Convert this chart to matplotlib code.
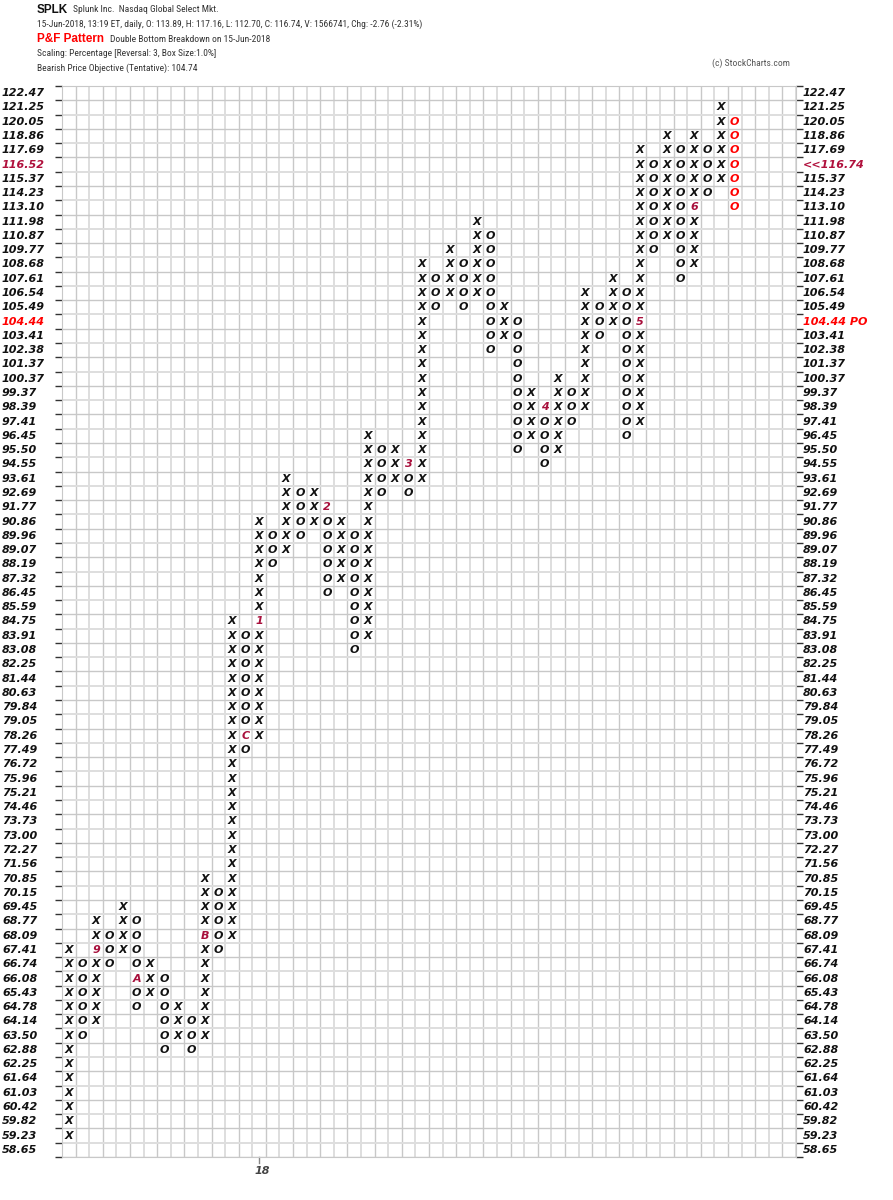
"""
SPLK 点数图 (P&F) 复刻
"""
import numpy as np
import matplotlib
matplotlib.use('Agg')
import matplotlib.pyplot as plt
from matplotlib import font_manager

# 价格刻度 (从上到下)
prices = [122.47, 121.25, 120.05, 118.86, 117.69, 116.52, 115.37, 114.23, 113.10, 111.98,
          110.87, 109.77, 108.68, 107.61, 106.54, 105.49, 104.44, 103.41, 102.38, 101.37,
          100.37, 99.37, 98.39, 97.41, 96.45, 95.50, 94.55, 93.61, 92.69, 91.77,
          90.86, 89.96, 89.07, 88.19, 87.32, 86.45, 85.59, 84.75, 83.91, 83.08,
          82.25, 81.44, 80.63, 79.84, 79.05, 78.26, 77.49, 76.72, 75.96, 75.21,
          74.46, 73.73, 73.00, 72.27, 71.56, 70.85, 70.15, 69.45, 68.77, 68.09,
          67.41, 66.74, 66.08, 65.43, 64.78, 64.14, 63.50, 62.88, 62.25, 61.64,
          61.03, 60.42, 59.82, 59.23, 58.65]

# 每一列: X / O, 最高价, 最低价
col_kind = ['X', 'O'] * 25
col_top = [67.41, 66.74, 68.77, 68.09, 69.45, 68.77, 66.74, 66.08, 64.78, 64.14,
           70.85, 70.15, 84.75, 83.91, 90.86, 89.96, 93.61, 92.69, 92.69, 91.77,
           90.86, 89.96, 96.45, 95.50, 95.50, 94.55, 108.68, 107.61, 109.77, 108.68,
           111.98, 110.87, 105.49, 104.44, 99.37, 98.39, 100.37, 99.37, 106.54, 105.49,
           107.61, 106.54, 117.69, 116.52, 118.86, 117.69, 118.86, 117.69, 121.25, 120.05]
col_bottom = [59.23, 63.50, 64.14, 66.74, 67.41, 64.78, 65.43, 62.88, 63.50, 62.88,
              63.50, 67.41, 68.09, 77.49, 78.26, 88.19, 89.07, 89.96, 90.86, 86.45,
              87.32, 83.08, 83.91, 92.69, 93.61, 92.69, 93.61, 105.49, 106.54, 105.49,
              106.54, 102.38, 103.41, 95.50, 96.45, 94.55, 95.50, 97.41, 98.39, 103.41,
              104.44, 96.45, 97.41, 109.77, 110.87, 107.61, 108.68, 114.23, 115.37, 113.10]

# 月份标记 (列, 价格, 字符)
month_col = [2, 5, 10, 13, 14, 19, 25, 35, 42, 46]
month_price = [67.41, 66.08, 68.09, 78.26, 84.75, 91.77, 94.55, 98.39, 104.44, 113.10]
month_label = ['9', 'A', 'B', 'C', '1', '2', '3', '4', '5', '6']

n_cols = 54
W, H = 893, 1200

# 标题用窄字体 (有就用)
names = {f.name for f in font_manager.fontManager.ttflist}
narrow = 'Liberation Sans'
for nm in ['Liberation Sans Narrow', 'Arial Narrow', 'Roboto Condensed', 'Open Sans Condensed']:
    if nm in names:
        narrow = nm
        break

fig = plt.figure(figsize=(W / 100, H / 100), dpi=100)
ax = fig.add_axes([62 / W, 1 - 1157 / H, (796 - 62) / W, (1157 - 86) / H])
ax.set_xlim(-0.5, n_cols - 0.5)
ax.set_ylim(len(prices) - 0.5, -0.5)

# 网格
for j in range(n_cols + 1):
    ax.axvline(j - 0.5, color='#c8c8c8' if j % 2 else '#dedede', lw=1.0 if j % 2 else 1.4, zorder=0)
for i in range(len(prices) + 1):
    ax.axhline(i - 0.5, color='#c8c8c8' if i % 2 else '#dedede', lw=1.0 if i % 2 else 1.4, zorder=0)
for s in ax.spines.values():
    s.set_color('#c8c8c8')

ax.set_xticks([])
ax.set_yticks(np.arange(len(prices) + 1) - 0.5)
ax.tick_params(axis='y', which='both', left=True, right=True, length=5, width=1,
               color='#333333', labelleft=False, labelright=False)

row = {p: i for i, p in enumerate(prices)}
sym = dict(ha='center', va='center', fontsize=8, fontweight='bold', fontstyle='italic',
           fontstretch='normal', family='DejaVu Sans')

# X / O
for c in range(len(col_kind)):
    k = col_kind[c]
    color = '#ff0000' if c == len(col_kind) - 1 else '#111111'
    for i in range(row[col_top[c]], row[col_bottom[c]] + 1):
        if any(mc == c and row[mp] == i for mc, mp in zip(month_col, month_price)):
            continue
        ax.text(c, i, k, color=color, **sym)

for mc, mp, ml in zip(month_col, month_price, month_label):
    ax.text(mc, row[mp], ml, color='#a8103c', **sym)

# 左右价格标签
ytr = ax.get_yaxis_transform()
lab = dict(transform=ytr, ha='left', va='center', fontsize=8, fontweight='bold',
           fontstyle='italic', fontstretch='normal', family='DejaVu Sans')
for i, p in enumerate(prices):
    lc, rc, rt = '#111111', '#111111', '%.2f' % p
    lt = '%.2f' % p
    if i == 5:
        lc, rc, rt = '#b0103c', '#b0103c', '<<116.74'
    if i == 16:
        lc, rc, rt = '#ff0000', '#ff0000', '104.44 PO'
    ax.text((2 - 62) / 734, i, lt, color=lc, **lab)
    ax.text((803 - 62) / 734, i, rt, color=rc, **lab)

# 时间轴 "18"
xtr = ax.get_xaxis_transform()
ax.plot([14, 14], [0, -0.006], transform=xtr, color='#888888', lw=1, clip_on=False)
ax.text(14.2, -0.013, '18', transform=xtr, ha='center', va='center', fontsize=8,
        fontweight='bold', fontstyle='italic', color='#444444', family='DejaVu Sans')


# 标题区
def ftext(x, y, s, size=6.8, family=narrow, **kw):
    fig.text(x / W, 1 - y / H, s, va='center', ha='left', fontsize=size, family=family, **kw)


ftext(37, 10, 'SPLK', size=8.5, family='Liberation Sans', fontweight='bold', color='#111111')
ftext(73, 10, 'Splunk Inc.  Nasdaq Global Select Mkt.', color='#333333')
ftext(37, 24, '15-Jun-2018, 13:19 ET, daily, O: 113.89, H: 117.16, L: 112.70, C: 116.74, '
              'V: 1566741, Chg: -2.76 (-2.31%)', color='#333333')
ftext(37, 39, 'P&F Pattern', size=8.5, family='Liberation Sans', fontweight='bold',
      color='#ff0000')
ftext(110, 39, 'Double Bottom Breakdown on 15-Jun-2018', color='#333333')
ftext(37, 53, 'Scaling: Percentage [Reversal: 3, Box Size:1.0%]', color='#333333')
ftext(37, 68, 'Bearish Price Objective (Tentative): 104.74', color='#333333')
ftext(712, 63, '(c) StockCharts.com', color='#555555')

fig.savefig('out.png', dpi=100)
